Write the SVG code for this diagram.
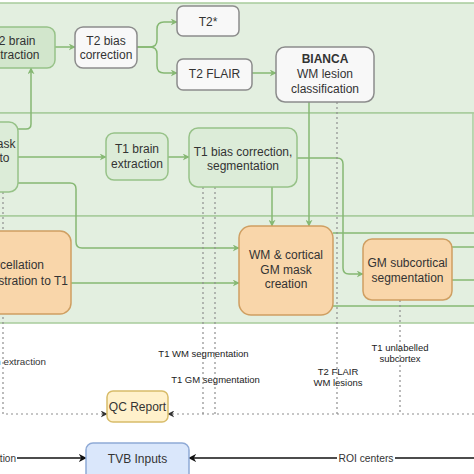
<svg xmlns="http://www.w3.org/2000/svg" width="474" height="474" viewBox="0 0 474 474">
<style>
.band{fill:#e3efe0;stroke:#a8cc9c;stroke-width:1.5}
.g{fill:#dcecd8;stroke:#97c288;stroke-width:1.5}
.gd{fill:#d2e6cc;stroke:#97c288;stroke-width:1.5}
.w{fill:#f8f8f8;stroke:#8c8c8c;stroke-width:1.5}
.o{fill:#f9d6aa;stroke:#cf9f62;stroke-width:1.5}
.y{fill:#fff1cb;stroke:#d8bc6a;stroke-width:1.5}
.b{fill:#dae7fb;stroke:#8faad6;stroke-width:1.5}
text{font-family:"Liberation Sans",Arial,Helvetica,sans-serif;fill:#333}
.t{font-size:12px;text-anchor:middle}
.l{font-size:9.5px;text-anchor:middle;fill:#222}
.c{fill:none;stroke:#86b873;stroke-width:1.5}
.d{fill:none;stroke:#8e8e8e;stroke-width:1.2;stroke-dasharray:2 3}
.k{fill:none;stroke:#111;stroke-width:1.5}
</style>
<defs>
<marker id="ag" viewBox="0 0 10 10" refX="9" refY="5" markerWidth="7" markerHeight="7" markerUnits="userSpaceOnUse" orient="auto"><path d="M0,0 L10,5 L0,10 L3,5 Z" fill="#86b873"/></marker>
<marker id="ad" viewBox="0 0 10 10" refX="9" refY="5" markerWidth="7" markerHeight="7" markerUnits="userSpaceOnUse" orient="auto"><path d="M0,0 L10,5 L0,10 L3,5 Z" fill="#333"/></marker>
<marker id="ak" viewBox="0 0 10 10" refX="9" refY="5" markerWidth="8" markerHeight="8" markerUnits="userSpaceOnUse" orient="auto"><path d="M0,0 L10,5 L0,10 L3,5 Z" fill="#111"/></marker>
</defs>
<rect width="474" height="474" fill="#fff"/>
<g id="bands">
<rect class="band" x="-5" y="3" width="485" height="110"/>
<rect class="band" x="-5" y="113" width="478" height="103"/>
<rect class="band" x="-5" y="216" width="485" height="107"/>
</g>
<g id="connectors">
<path class="c" d="M55,47 H75" marker-end="url(#ag)"/>
<path class="c" d="M137,47 H150 Q157,47 157,40 V29 Q157,22 164,22 H177" marker-end="url(#ag)"/>
<path class="c" d="M137,47 H150 Q157,47 157,54 V66 Q157,73 164,73 H177" marker-end="url(#ag)"/>
<path class="c" d="M252,73 H276" marker-end="url(#ag)"/>
<path class="c" d="M18,129 H26 Q31,129 31,124 V68" marker-end="url(#ag)"/>
<path class="c" d="M18,157 H106" marker-end="url(#ag)"/>
<path class="c" d="M18,183 H70 Q76,183 76,189 V242 Q76,248 82,248 H239" marker-end="url(#ag)"/>
<path class="c" d="M71,283 H239" marker-end="url(#ag)"/>
<path class="c" d="M168,157 H189" marker-end="url(#ag)"/>
<path class="c" d="M272,187 V226" marker-end="url(#ag)"/>
<path class="c" d="M309,102 V226" marker-end="url(#ag)"/>
<path class="c" d="M297,158 H337 Q343,158 343,164 V268 Q343,274 349,274 H363" marker-end="url(#ag)"/>
<path class="c" d="M333,233 H474"/>
<path class="c" d="M452,247 H474"/>
<path class="c" d="M452,280 H474"/>
<path class="c" d="M333,306 H474"/>
<path class="d" d="M3,192 V414 H107" marker-end="url(#ad)"/>
<path class="d" d="M203,187 V414"/>
<path class="d" d="M215,187 V414"/>
<path class="d" d="M337,102 V414"/>
<path class="d" d="M400,300 V414"/>
<path class="d" d="M474,414 H168" marker-end="url(#ad)"/>
<path class="k" d="M17,458 H86" marker-end="url(#ak)"/>
<path class="k" d="M474,458 H189" marker-end="url(#ak)"/>
</g>
<g id="n-t2brain"><rect class="gd" x="-40" y="27" width="95" height="41" rx="8"/><text class="t" x="13.5" y="44.5">T2 brain</text><text class="t" x="13.5" y="58.5">extraction</text></g>
<g id="n-t2bias"><rect class="w" x="75" y="27" width="62" height="41" rx="8"/><text class="t" x="106" y="44.5">T2 bias</text><text class="t" x="106" y="58.5">correction</text></g>
<g id="n-t2star"><rect class="w" x="177" y="6" width="62" height="30" rx="6"/><text class="t" x="208" y="25.5">T2*</text></g>
<g id="n-t2flair"><rect class="w" x="177" y="59" width="75" height="31" rx="6"/><text class="t" x="214.5" y="78">T2 FLAIR</text></g>
<g id="n-bianca"><rect class="w" x="276" y="47" width="98" height="55" rx="9"/><text class="t" x="325" y="63" font-weight="bold">BIANCA</text><text class="t" x="325" y="78">WM lesion</text><text class="t" x="325" y="92.5">classification</text></g>
<g id="n-mask"><rect class="g" x="-60" y="122" width="78" height="70" rx="9"/><text x="15.5" y="147.5" font-size="12" text-anchor="end">mask</text><text x="9.5" y="162" font-size="12" text-anchor="end">to</text></g>
<g id="n-t1brain"><rect class="g" x="106" y="133" width="62" height="47" rx="8"/><text class="t" x="137" y="153">T1 brain</text><text class="t" x="137" y="167.5">extraction</text></g>
<g id="n-t1bias"><rect class="g" x="189" y="128" width="108" height="59" rx="9"/><text class="t" x="243" y="156">T1 bias correction,</text><text class="t" x="243" y="170">segmentation</text></g>
<g id="n-parc"><rect class="o" x="-45" y="231" width="116" height="83" rx="11"/><text x="44" y="269" font-size="12" text-anchor="end">Parcellation</text><text x="68" y="285" font-size="12" text-anchor="end">registration to T1</text></g>
<g id="n-wmgm"><rect class="o" x="239" y="226" width="94" height="89" rx="12"/><text class="t" x="286" y="259">WM &amp; cortical</text><text class="t" x="286" y="273.5">GM mask</text><text class="t" x="286" y="288">creation</text></g>
<g id="n-gmsub"><rect class="o" x="363" y="239" width="89" height="61" rx="9"/><text class="t" x="407.5" y="267">GM subcortical</text><text class="t" x="407.5" y="281.5">segmentation</text></g>
<g id="n-qc"><rect class="y" x="107" y="391" width="61" height="31" rx="6"/><text class="t" x="137.5" y="410.5">QC Report</text></g>
<g id="n-tvb"><rect class="b" x="86" y="443" width="103" height="40" rx="7"/><text class="t" x="137.5" y="462.5">TVB Inputs</text></g>
<g id="labels">
<text x="46" y="364.5" font-size="9.8" text-anchor="end" fill="#222">Brain extraction</text>
<text class="l" x="203.5" y="356.5">T1 WM segmentation</text>
<text class="l" x="215.5" y="382.5">T1 GM segmentation</text>
<text class="l" x="338" y="374.5">T2 FLAIR</text>
<text class="l" x="338" y="386">WM lesions</text>
<text class="l" x="400" y="350.5">T1 unlabelled</text>
<text class="l" x="400" y="362">subcortex</text>
<text x="16" y="461.5" font-size="10" text-anchor="end" fill="#222">Parcellation</text>
<rect x="337" y="451" width="58" height="14" fill="#fff"/>
<text x="366" y="461.5" font-size="10.3" text-anchor="middle" fill="#222">ROI centers</text>
</g>
</svg>
